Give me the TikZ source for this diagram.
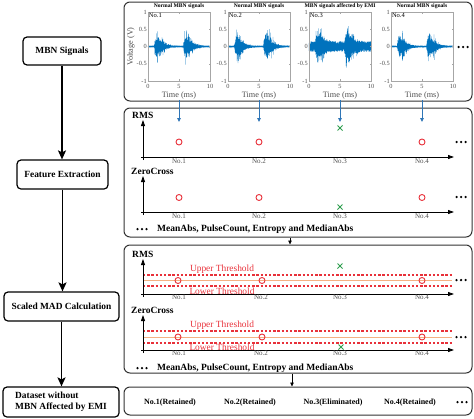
\documentclass[tikz,border=0pt]{standalone}
\usepackage{fontspec}
\setmainfont{Liberation Serif}
\usetikzlibrary{arrows.meta}
\definecolor{sigblue}{HTML}{0072BD}
\definecolor{arrblue}{HTML}{2E75B6}
\definecolor{mred}{HTML}{E8313A}
\definecolor{mgreen}{HTML}{2E9E4F}
\definecolor{morange}{HTML}{F5B183}
\definecolor{axgray}{HTML}{4D4D4D}
\definecolor{pframe}{HTML}{333333}
\tikzset{
 lbox/.style={draw, line width=1.2pt, rounded corners=4pt, inner sep=0pt, align=center, font=\fontsize{9.4}{11}\selectfont\bfseries},
 panel/.style={draw=pframe, line width=1pt, rounded corners=6pt, inner sep=0pt},
 flow/.style={line width=1.5pt, -{Stealth[length=9pt,width=8pt,inset=2pt]}},
 barrow/.style={arrblue, line width=1pt, -{Triangle[length=4pt,width=3.5pt]}},
 karrow/.style={line width=0.6pt, -{Triangle[length=4pt,width=3.5pt]}},
 axisarr/.style={line width=0.8pt, -{Triangle[length=6pt,width=4pt]}},
 ttl/.style={font=\fontsize{5.6}{6}\selectfont\bfseries, inner sep=0pt},
 tick/.style={text=axgray, font=\fontsize{6.3}{6.5}\selectfont, inner sep=0.5pt},
 xlab/.style={text=axgray, font=\fontsize{8.2}{9}\selectfont, inner sep=0pt},
 flab/.style={font=\fontsize{9.5}{11}\selectfont\bfseries, inner sep=0pt},
 nolab/.style={text=axgray, font=\fontsize{7}{7}\selectfont, inner sep=0pt},
 thr/.style={text=mred, font=\fontsize{9.4}{10}\selectfont, inner sep=0pt},
 res/.style={font=\fontsize{8}{9}\selectfont\bfseries, inner sep=0pt},
 thrline/.style={draw=mred, line width=1.2pt, dash pattern=on 2.4pt off 1.8pt},
 midline/.style={draw=morange, line width=1pt},
 omark/.pic={\draw[mred, line width=0.9pt] (0,0) circle (3pt);},
 xmark/.pic={\draw[mgreen, line width=0.9pt] (-2.5,-2.5)--(2.5,2.5) (-2.5,2.5)--(2.5,-2.5);},
 threedots/.pic={\foreach \k in {-4.5,0,4.5} \fill (\k,0) circle (1.25pt);},
}
\begin{document}
\begin{tikzpicture}[x=1pt,y=-1pt,
  declare function={bu(\u)=(max(\u,0)/0.5)*exp(1-max(\u,0)/0.5); env(\t)=0.75*bu(\t-1.0)+0.8*bu(\t-5.7);}]
\useasboundingbox (0,0) rectangle (474,418);

% left column
\node[lbox, minimum width=78pt, minimum height=28pt] (mbn) at (62,51) {MBN Signals};
\node[lbox, minimum width=91pt, minimum height=29pt] (fe) at (62.5,174.5) {Feature Extraction};
\node[lbox, minimum width=115pt, minimum height=29pt] (mad) at (61.5,306.5) {Scaled MAD Calculation};
\node[lbox, minimum width=116pt, minimum height=30pt, align=left] (ds) at (61,402) {Dataset without\\MBN Affected by EMI};
\draw[flow] (mbn.south) -- (mbn.south |- fe.north);
\draw[flow] (fe.south) -- (fe.south |- mad.north);
\draw[flow] (mad.south) -- (mad.south |- ds.north);

% panels
\node[panel, minimum width=348pt, minimum height=99pt] (p1) at (298,51.5) {};
\node[panel, minimum width=348pt, minimum height=129pt] (p2) at (298,172.5) {};
\node[panel, minimum width=348pt, minimum height=128pt] (p3) at (298,309) {};
\node[panel, minimum width=348pt, minimum height=28pt] (p4) at (298,401) {};

% signal plots
\foreach \L/\ttltext/\n/\em in {148/Normal MBN signals/1/0.025, 228/Normal MBN signals/2/0.025, 309/MBN signals affected by EMI/3/0.15, 391/Normal MBN signals/4/0.025}{
 \begin{scope}[shift={(\L,46.5)}, x=6.2pt, y=34.5pt]
  \pgfmathsetseed{\n3}
  \draw[sigblue, line width=0.25pt] (0,0)
    \foreach \i in {0,...,699}{ -- ({\i/70},{(1-2*mod(\i,2))*(\em*(0.4+0.6*rnd)+env(\i/70)*(0.2+0.8*rnd*rnd*rnd))}) };
  \draw[gray!70, line width=0.4pt] (0,-1) rectangle (10,1);
  \foreach \xx in {0,5,10}{
    \draw[gray!70, line width=0.4pt] (\xx,-1) -- ++(0,0.05) (\xx,1) -- ++(0,-0.05);
    \node[tick] at (\xx,-1.16) {\xx};
  }
  \foreach \yy/\lab in {1/1,0.5/0.5,0/0,-0.5/-0.5,-1/-1}{
    \draw[gray!70, line width=0.4pt] (0,\yy) -- ++(0.2,0) (10,\yy) -- ++(-0.2,0);
    \node[tick, anchor=east] at (-0.1,\yy) {\lab};
  }
  \node[ttl] at (5,1.17) {\ttltext};
  \node[font=\fontsize{6.5}{7}\selectfont, anchor=north west, inner sep=0.3pt] at (0.08,0.98) {No.\n};
  \node[xlab] (t\n) at (5,-1.43) {Time (ms)};
  \coordinate (fa\n) at (5,-2.19);
 \end{scope}
}
\node[xlab, rotate=90] at (131,46.5) {Voltage (V)};
\pic at (463,47) {threedots};
\foreach \n in {1,...,4} \draw[barrow] (t\n.south) -- (fa\n);

% feature extraction panel
\node[flab, anchor=west] at (132,115) {RMS};
\draw[axisarr] (143,160) -- (143,120);
\draw[axisarr] (141,157) -- (454,157);
\node[flab, anchor=west] at (131,171) {ZeroCross};
\draw[axisarr] (143,215) -- (143,176);
\draw[axisarr] (141,212) -- (454,212);
\foreach \x/\k in {179/1,259/2,340/3,422/4}{
  \node[nolab] at (\x,161.5) {No.\k};
  \node[nolab] at (\x,216.5) {No.\k};
}
\foreach \x in {179,259,422}{
  \pic at (\x,142) {omark};
  \pic at (\x,197.5) {omark};
}
\pic at (340,128) {xmark};
\pic at (340,207) {xmark};
\pic at (461,142) {threedots};
\pic at (461,197) {threedots};
\pic at (142,229) {threedots};
\node[flab, anchor=west] at (157,229) {MeanAbs, PulseCount, Entropy and MedianAbs};

% scaled MAD panel
\node[flab, anchor=west] at (132,254) {RMS};
\draw[thrline] (143,275) -- (452,275);
\draw[midline] (143,280.5) -- (452,280.5);
\draw[thrline] (143,286) -- (452,286);
\node[thr] at (222,269) {Upper Threshold};
\node[thr] at (222,291.5) {Lower Threshold};
\draw[axisarr] (143,297) -- (143,259);
\draw[axisarr] (141,294) -- (454,294);
\node[flab, anchor=west] at (131,310.5) {ZeroCross};
\draw[thrline] (143,331) -- (452,331);
\draw[midline] (143,337) -- (452,337);
\draw[thrline] (143,343) -- (452,343);
\node[thr] at (222,325) {Upper Threshold};
\node[thr] at (222,347.5) {Lower Threshold};
\draw[axisarr] (143,353) -- (143,315);
\draw[axisarr] (141,350) -- (454,350);
\foreach \x/\k in {179/1,261/2,340/3,422/4}{
  \node[nolab] at (\x,297.5) {No.\k};
  \node[nolab] at (\x,353) {No.\k};
}
\foreach \x in {178,262,422}{
  \pic at (\x,280.5) {omark};
  \pic at (\x,337) {omark};
}
\pic at (340,266) {xmark};
\pic at (341,347) {xmark};
\pic at (461,280) {threedots};
\pic at (461,337) {threedots};
\pic at (142,368) {threedots};
\node[flab, anchor=west] at (157,368) {MeanAbs, PulseCount, Entropy and MedianAbs};

% result panel
\node[res] at (170,403) {No.1(Retained)};
\node[res] at (250,403) {No.2(Retained)};
\node[res] at (333,403) {No.3(Eliminated)};
\node[res] at (410,403) {No.4(Retained)};
\pic at (462,402) {threedots};

% arrows between panels
\draw[karrow] ([xshift=-8pt]p2.south) -- ([xshift=-8pt]p3.north);
\draw[karrow] ([xshift=-6pt]p3.south) -- ([xshift=-6pt]p4.north);
\end{tikzpicture}
\end{document}
